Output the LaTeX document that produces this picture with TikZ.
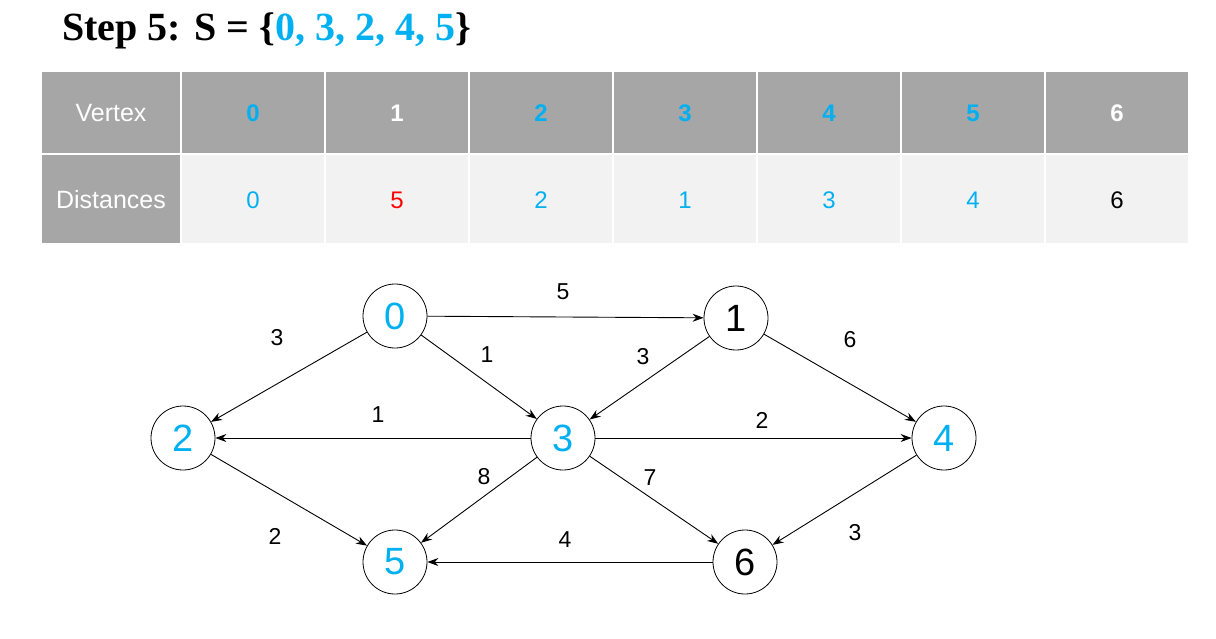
\documentclass[tikz,border=0pt]{standalone}
\usepackage{fontspec}
\setmainfont{Liberation Sans}
\newfontfamily\tnr{Liberation Serif}
\usetikzlibrary{arrows.meta}
\definecolor{cb}{HTML}{00B0F0}
\definecolor{hg}{HTML}{A6A6A6}
\definecolor{lg}{HTML}{F2F2F2}
\begin{document}
\begin{tikzpicture}[x=1pt,y=-1pt,
 vtx/.style={circle,draw,thick,minimum size=64pt,inner sep=0pt,font=\fontsize{38}{38}\selectfont},
 ed/.style={-{Stealth[length=11pt,width=8pt]},line width=0.9pt},
 lb/.style={font=\fontsize{23}{23}\selectfont},
 hc/.style={font=\fontsize{24}{24}\selectfont\bfseries},
 dc/.style={font=\fontsize{24}{24}\selectfont}]
\useasboundingbox (0,0) rectangle (1216,638);
\node[anchor=base west,inner sep=0pt,font=\tnr\fontsize{40}{40}\selectfont\bfseries] (title) at (62,40) {Step 5: S = \{\textcolor{cb}{0, 3, 2, 4, 5}\}};
% table
\fill[hg] (42,72) rectangle (180,153);
\fill[hg] (42,155) rectangle (180,243);
\node[text=white,font=\fontsize{25}{25}\selectfont] (hv) at (111,113) {Vertex};
\node[text=white,font=\fontsize{25}{25}\selectfont] (hd) at (111,200) {Distances};
\foreach \i/\hcol/\dv/\dcol in {0/cb/0/cb,1/white/5/red,2/cb/2/cb,3/cb/1/cb,4/cb/3/cb,5/cb/4/cb,6/white/6/black}{
 \pgfmathsetmacro\xa{182+144*\i}
 \fill[hg] (\xa,72) rectangle ++(142,81);
 \fill[lg] (\xa,155) rectangle ++(142,88);
 \node[hc,text=\hcol] (h\i) at (\xa+71,113) {\i};
 \node[dc,text=\dcol] (d\i) at (\xa+71,200) {\dv};
}
% graph
\node[vtx,text=cb] (n0) at (395,316) {0};
\node[vtx] (n1) at (736,318) {1};
\node[vtx,text=cb] (n2) at (183,438) {2};
\node[vtx,text=cb] (n3) at (563,438) {3};
\node[vtx,text=cb] (n4) at (944,438) {4};
\node[vtx,text=cb] (n5) at (395,562) {5};
\node[vtx] (n6) at (745,562) {6};
\draw[ed] (n0) -- (n1);
\draw[ed] (n0) -- (n2);
\draw[ed] (n0) -- (n3);
\draw[ed] (n1) -- (n3);
\draw[ed] (n1) -- (n4);
\draw[ed] (n3) -- (n2);
\draw[ed] (n3) -- (n4);
\draw[ed] (n3) -- (n5);
\draw[ed] (n3) -- (n6);
\draw[ed] (n2) -- (n5);
\draw[ed] (n6) -- (n5);
\draw[ed] (n4) -- (n6);
\node[lb] (l01) at (563,292) {5};
\node[lb] (l02) at (277,338) {3};
\node[lb] (l03) at (487,355) {1};
\node[lb] (l13) at (643,357) {3};
\node[lb] (l14) at (850,340) {6};
\node[lb] (l32) at (378,415) {1};
\node[lb] (l34) at (762,420) {2};
\node[lb] (l35) at (484,477) {8};
\node[lb] (l36) at (650,478) {7};
\node[lb] (l25) at (275,536) {2};
\node[lb] (l65) at (565,540) {4};
\node[lb] (l46) at (855,533) {3};
\end{tikzpicture}
\end{document}
